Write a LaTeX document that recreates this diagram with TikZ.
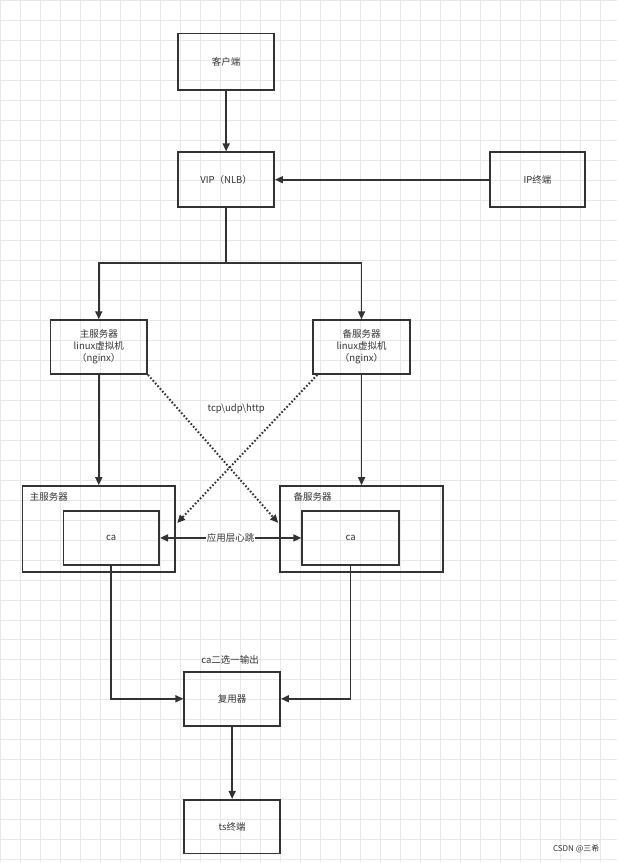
\documentclass[tikz,border=0pt]{standalone}
\usepackage{fontspec}
\setmainfont{Noto Sans CJK SC}
\usetikzlibrary{arrows.meta}
\definecolor{lcol}{RGB}{51,51,51}
\definecolor{gcol}{RGB}{232,232,232}
\tikzset{box/.style={draw=lcol,line width=1.6pt,text=lcol,font=\fontsize{9.5}{12}\selectfont,align=center,inner sep=0pt}}
\tikzset{edge/.style={draw=lcol,line width=1.6pt,-{Triangle[length=8pt,width=7pt]}}}
\tikzset{dots/.style={edge,dotted,line width=2pt}}
\tikzset{annot/.style={text=lcol,font=\fontsize{9.5}{12}\selectfont}}

\begin{document}
\begin{tikzpicture}[x=1pt,y=-1pt]
\fill[white] (0,0) rectangle (617,863);
\foreach \i in {0,20,...,860} \draw[gcol,line width=0.7pt] (0,\i) -- (617,\i);
\foreach \i in {0,20,...,610} \draw[gcol,line width=0.7pt] (\i,0) -- (\i,863);
\useasboundingbox (0,0) rectangle (617,863);

\node [box,minimum width=96,minimum height=57] (client) at (226,61.5) {客户端};
\node [box,minimum width=96,minimum height=55] (vip) at (226,179.5) {VIP（NLB）};
\node [box,minimum width=95,minimum height=55] (ipt) at (537.5,179.5) {IP终端};
\node [box,minimum width=97,minimum height=54] (ngm) at (98.5,347) {主服务器\\linux虚拟机\\（nginx）};
\node [box,minimum width=97,minimum height=54] (ngb) at (361.5,347) {备服务器\\linux虚拟机\\（nginx）};
\node [box,minimum width=153,minimum height=86] (srvm) at (98.5,529) {};
\node [box,minimum width=163,minimum height=86] (srvb) at (361.5,529) {};
\node [annot,anchor=north west] at (26,489) {主服务器};
\node [annot,anchor=north west] at (290,489) {备服务器};
\node [box,minimum width=96,minimum height=54] (cam) at (111,538) {ca};
\node [box,minimum width=97,minimum height=54] (cab) at (350.5,538) {ca};
\node [box,minimum width=96,minimum height=54] (mux) at (232,699) {复用器};
\node [box,minimum width=96,minimum height=54] (ts) at (232,827) {ts终端};
\node [annot] at (230,660) {ca二选一输出};
\node [annot] at (236,409) {tcp\textbackslash udp\textbackslash http};
\coordinate (split) at (226,263);

\draw [edge] (client) -- (vip);
\draw [edge] (ipt) -- (vip);
\draw [edge] (vip) -- (split) -| (ngm);
\draw [edge] (split) -| (ngb);
\draw [edge] (ngm) -- (ngm|-srvm.north);
\draw [edge] (ngb) -- (ngb|-srvb.north);
\draw [dots] (ngm.south east) -- (278,523);
\draw [dots] (ngb.south west) ++(5,0) -- (177,523);
\draw [edge,{Triangle[length=8pt,width=7pt]}-{Triangle[length=8pt,width=7pt]}] (cam) -- node [annot,fill=white,inner sep=1pt] {应用层心跳} (cab);
\draw [edge] (cam) |- (mux);
\draw [edge] (cab) |- (mux);
\draw [edge] (mux) -- (ts);
\node [annot,anchor=south east,font=\fontsize{8}{10}\selectfont] at (603,857) {CSDN @三希};
\end{tikzpicture}
\end{document}
